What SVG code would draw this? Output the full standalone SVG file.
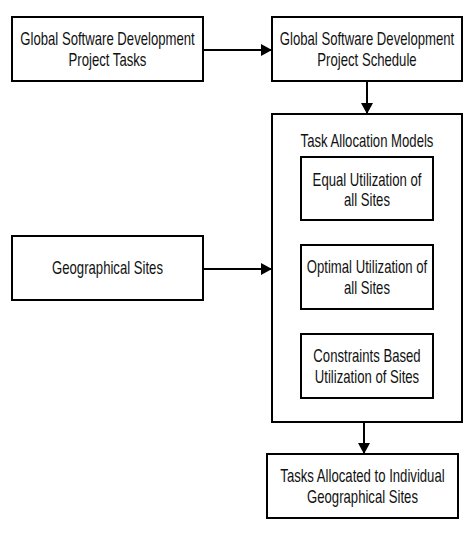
<svg xmlns="http://www.w3.org/2000/svg" width="474" height="535" viewBox="0 0 474 535">
<style>
rect{fill:#fff;stroke:#000;stroke-width:2}
text{font-family:"Liberation Sans",Arial,sans-serif;font-size:18px;fill:#111;text-anchor:middle}
.c{stroke:#000;stroke-width:2;fill:none}
</style>
<defs><marker id="a" markerWidth="11" markerHeight="12" refX="10" refY="6" orient="auto" markerUnits="userSpaceOnUse"><path d="M0,0L11,6L0,12z" fill="#000"/></marker></defs>
<rect x="0" y="0" width="474" height="535" style="stroke:none"/>
<g id="n1"><rect x="12" y="17" width="191" height="64"/><g transform="translate(107.5,0) scale(0.73,1)"><text x="0" y="45">Global Software Development</text><text x="0" y="66">Project Tasks</text></g></g>
<g id="n2"><rect x="272" y="17" width="190" height="64"/><g transform="translate(367,0) scale(0.73,1)"><text x="0" y="45">Global Software Development</text><text x="0" y="66">Project Schedule</text></g></g>
<g id="n3"><rect x="272" y="114" width="190" height="308"/><g transform="translate(367,0) scale(0.73,1)"><text x="0" y="147">Task Allocation Models</text></g></g>
<g id="n4"><rect x="301" y="157" width="132" height="63"/><g transform="translate(367,0) scale(0.73,1)"><text x="0" y="186">Equal Utilization of</text><text x="0" y="206">all Sites</text></g></g>
<g id="n5"><rect x="301" y="245" width="132" height="64"/><g transform="translate(367,0) scale(0.73,1)"><text x="0" y="273">Optimal Utilization of</text><text x="0" y="294">all Sites</text></g></g>
<g id="n6"><rect x="301" y="334" width="132" height="64"/><g transform="translate(367,0) scale(0.73,1)"><text x="0" y="362">Constraints Based</text><text x="0" y="383">Utilization of Sites</text></g></g>
<g id="n7"><rect x="12" y="236" width="191" height="64"/><g transform="translate(107.5,0) scale(0.73,1)"><text x="0" y="274">Geographical Sites</text></g></g>
<g id="n8"><rect x="267" y="454" width="191" height="64"/><g transform="translate(362.5,0) scale(0.73,1)"><text x="0" y="482">Tasks Allocated to Individual</text><text x="0" y="503">Geographical Sites</text></g></g>
<g id="connectors">
<line class="c" x1="203" y1="50" x2="271" y2="50" marker-end="url(#a)"/>
<line class="c" x1="367" y1="81" x2="367" y2="113" marker-end="url(#a)"/>
<line class="c" x1="203" y1="269" x2="271" y2="269" marker-end="url(#a)"/>
<line class="c" x1="364" y1="422" x2="364" y2="453" marker-end="url(#a)"/>
</g>
</svg>
